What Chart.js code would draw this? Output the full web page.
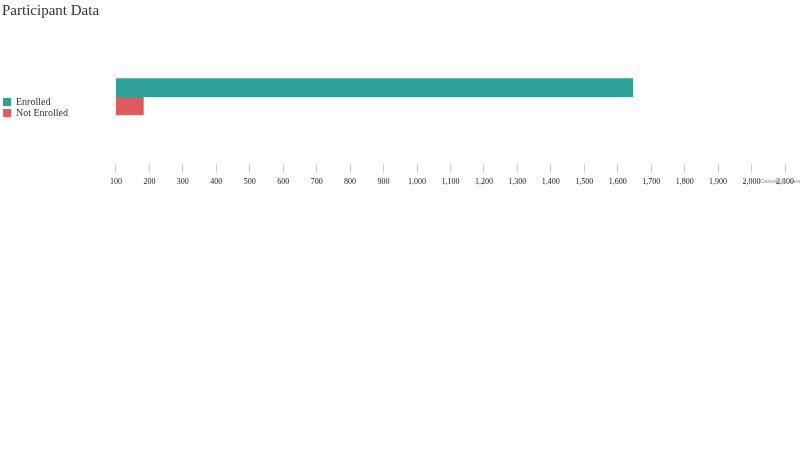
<!DOCTYPE html>
<html>
<head>
<meta charset="utf-8">
<script src="https://cdn.jsdelivr.net/npm/chart.js@4.4.1/dist/chart.umd.min.js"></script>
<style>
    body { margin: 0; background: #fff; }
    #wrap { position: relative; width: 800px; height: 193px; }
    #credit { position: absolute; left: 760px; top: 178px; font: 6px "Liberation Sans", sans-serif; color: #888; }
</style>
</head>
<body>
<div id="wrap">
    <canvas id="participantChart"></canvas>
    <span id="credit">CanvasJS.com</span>
</div>
<script>
const categories = ['Participants'];
const enrolledValues = [1645];
const notEnrolledValues = [182];
const axisMin = 100;
const axisMax = 2100;
const axisStep = 100;

const serif = '"Liberation Serif", "DejaVu Serif", serif';

document.addEventListener('DOMContentLoaded', function () {
    const ctx = document.getElementById('participantChart').getContext('2d');

    new Chart(ctx, {
        type: 'bar',
        data: {
            labels: categories,
            datasets: [{
                label: 'Enrolled',
                data: enrolledValues,
                backgroundColor: '#2EA097',
                barThickness: 18
            }, {
                label: 'Not Enrolled',
                data: notEnrolledValues,
                backgroundColor: '#E05B5B',
                barThickness: 18
            }]
        },
        options: {
            indexAxis: 'y',
            responsive: true,
            maintainAspectRatio: false,
            animation: false,
            layout: {
                padding: { top: 0, right: 15, bottom: 2, left: 2 }
            },
            plugins: {
                title: {
                    display: true,
                    text: 'Participant Data',
                    align: 'start',
                    color: '#333',
                    font: { family: serif, size: 15, weight: 'normal' },
                    padding: { top: 2, bottom: 9 }
                },
                legend: {
                    position: 'left',
                    align: 'center',
                    // empty title only pushes the items down a bit
                    title: {
                        display: true,
                        text: ' ',
                        font: { family: serif, size: 10 },
                        padding: { top: 12, bottom: 0 }
                    },
                    labels: {
                        color: '#333',
                        font: { family: serif, size: 10 },
                        boxWidth: 8,
                        boxHeight: 8,
                        padding: 1
                    }
                },
                tooltip: { enabled: false }
            },
            scales: {
                x: {
                    min: axisMin,
                    max: axisMax,
                    border: { display: false },
                    grid: {
                        drawOnChartArea: false,
                        drawTicks: true,
                        tickLength: 9,
                        color: '#d0d0d0'
                    },
                    ticks: {
                        stepSize: axisStep,
                        color: '#222',
                        padding: 4,
                        font: { family: serif, size: 8 },
                        maxRotation: 0,
                        autoSkip: false,
                        callback: function (value) {
                            return value.toLocaleString('en-US');
                        }
                    }
                },
                y: {
                    border: { display: false },
                    grid: { display: false },
                    ticks: { display: false },
                    afterFit: function (scale) {
                        scale.width = 38;
                    }
                }
            }
        }
    });
});
</script>
</body>
</html>
